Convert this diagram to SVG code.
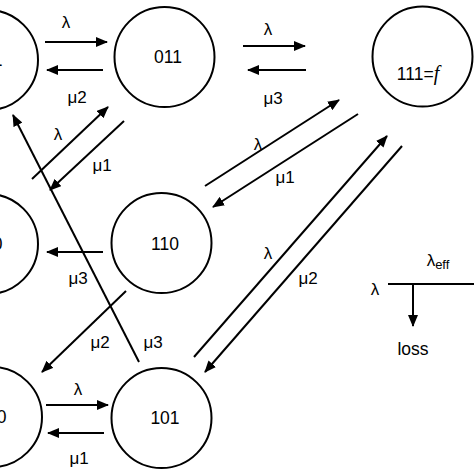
<svg xmlns="http://www.w3.org/2000/svg" width="474" height="474" viewBox="0 0 474 474">
<defs>
<marker id="ah" viewBox="0 0 12 10" refX="11" refY="5" markerWidth="12" markerHeight="10" markerUnits="userSpaceOnUse" orient="auto">
<path d="M0,0 L12,5 L0,10 Z" fill="#000"/>
</marker>
<style>
.n{fill:#fff;stroke:#000;stroke-width:2}
.t{font-family:"Liberation Sans",Arial,sans-serif;font-size:17.5px;fill:#000;text-anchor:middle}
.l{font-family:"Liberation Sans",Arial,sans-serif;font-size:17px;fill:#000;text-anchor:middle}
.c{stroke:#000;stroke-width:2;fill:none}
.a{marker-end:url(#ah)}
</style>
</defs>
<rect width="474" height="474" fill="#fff"/>
<g id="n001"><circle class="n" cx="-12" cy="60" r="50"/><text class="t" x="-12" y="66">001</text></g>
<g id="n011"><circle class="n" cx="164.5" cy="57" r="50"/><text class="t" x="168" y="63">011</text></g>
<g id="n111"><circle class="n" cx="422.5" cy="56.5" r="50"/><text class="t" x="418" y="80">111=<tspan font-family="'Liberation Serif',serif" font-style="italic" font-size="20">f</tspan></text></g>
<g id="n010"><circle class="n" cx="-12" cy="244" r="50"/><text class="t" x="-12" y="250">010</text></g>
<g id="n110"><circle class="n" cx="161.5" cy="243" r="50"/><text class="t" x="165" y="250">110</text></g>
<g id="n100"><circle class="n" cx="-8" cy="417" r="50"/><text class="t" x="-8" y="423">100</text></g>
<g id="n101"><circle class="n" cx="161.5" cy="418" r="50"/><text class="t" x="165" y="424">101</text></g>
<g id="connectors">
<line class="c a" x1="45" y1="42" x2="107" y2="42"/>
<line class="c a" x1="103" y1="70" x2="47" y2="70"/>
<line class="c a" x1="243" y1="46" x2="305" y2="46"/>
<line class="c a" x1="306" y1="70" x2="248" y2="70"/>
<line class="c a" x1="32" y1="179" x2="108" y2="107"/>
<line class="c a" x1="124" y1="121" x2="50" y2="190"/>
<line class="c a" x1="139" y1="362" x2="13" y2="115"/>
<line class="c a" x1="103" y1="252" x2="47" y2="252"/>
<line class="c a" x1="126" y1="291" x2="42" y2="372"/>
<line class="c a" x1="46" y1="405" x2="108" y2="405"/>
<line class="c a" x1="104" y1="433" x2="48" y2="433"/>
<line class="c a" x1="205" y1="186" x2="339" y2="100"/>
<line class="c a" x1="358" y1="114" x2="213" y2="207"/>
<line class="c a" x1="194" y1="357" x2="387" y2="136"/>
<line class="c a" x1="402" y1="146" x2="205" y2="372"/>
<line class="c" x1="388" y1="284" x2="474" y2="284"/>
<line class="c a" x1="413" y1="284" x2="413" y2="326"/>
</g>
<g id="labels">
<text class="l" x="66" y="28">λ</text>
<text class="l" x="77" y="103">μ2</text>
<text class="l" x="268" y="35">λ</text>
<text class="l" x="273" y="104">μ3</text>
<text class="l" x="58" y="140">λ</text>
<text class="l" x="102" y="171">μ1</text>
<text class="l" x="78" y="284">μ3</text>
<text class="l" x="100" y="348">μ2</text>
<text class="l" x="153" y="348">μ3</text>
<text class="l" x="78" y="395">λ</text>
<text class="l" x="79" y="464">μ1</text>
<text class="l" x="258" y="150">λ</text>
<text class="l" x="285" y="183">μ1</text>
<text class="l" x="268" y="259">λ</text>
<text class="l" x="308" y="284">μ2</text>
<text class="l" x="375" y="295" font-size="22">λ</text>
<text class="l" x="438" y="266" font-size="22">λ<tspan font-size="13" dy="3">eff</tspan></text>
<text class="t" x="413" y="355" font-size="19">loss</text>
</g>
</svg>
